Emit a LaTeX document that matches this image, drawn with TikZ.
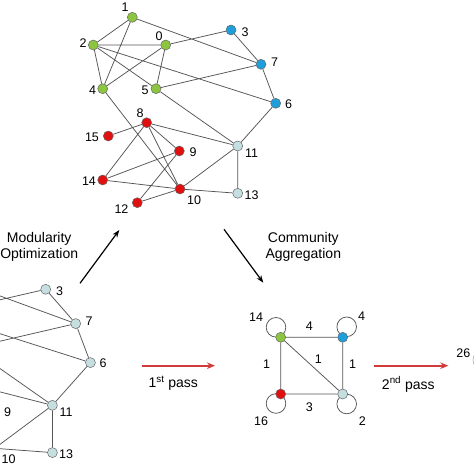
\documentclass[tikz,border=0pt]{standalone}
\usepackage{fontspec}
\setmainfont{Liberation Sans}
\usetikzlibrary{arrows.meta}
\definecolor{cgreen}{HTML}{8CC63E}
\definecolor{cblue}{HTML}{1E9FDC}
\definecolor{cred}{HTML}{E01010}
\definecolor{clight}{HTML}{C5DFE0}
\definecolor{cedge}{HTML}{555555}
\definecolor{carrow}{HTML}{D33A3A}
\newcommand\mygraph[4]{%
 \node[vtx,fill=#1] (n0) at (165.7,45) {};
 \node[vtx,fill=#1] (n1) at (132.3,17.3) {};
 \node[vtx,fill=#1] (n2) at (93.3,45) {};
 \node[vtx,fill=#2] (n3) at (231,30) {};
 \node[vtx,fill=#1] (n4) at (102.7,88.7) {};
 \node[vtx,fill=#1] (n5) at (156,88.7) {};
 \node[vtx,fill=#2] (n6) at (275.7,103.3) {};
 \node[vtx,fill=#2] (n7) at (261,64.3) {};
 \node[vtx,fill=#3] (n8) at (146.7,122.7) {};
 \node[vtx,fill=#3] (n9) at (179.3,151) {};
 \node[vtx,fill=#3] (n10) at (180,189) {};
 \node[vtx,fill=#4] (n11) at (237.7,146) {};
 \node[vtx,fill=#3] (n12) at (137.3,202.7) {};
 \node[vtx,fill=#4] (n13) at (237.7,193.3) {};
 \node[vtx,fill=#3] (n14) at (102.7,180) {};
 \node[vtx,fill=#3] (n15) at (108.3,136) {};
 \draw[edg] (n1)--(n2) (n1)--(n4) (n1)--(n7) (n2)--(n0) (n2)--(n4) (n2)--(n5)
   (n2)--(n6) (n0)--(n4) (n0)--(n5) (n0)--(n3) (n3)--(n7) (n7)--(n5) (n7)--(n6)
   (n4)--(n10) (n5)--(n11) (n6)--(n11) (n8)--(n15) (n8)--(n14) (n8)--(n9)
   (n8)--(n10) (n8)--(n11) (n9)--(n12) (n9)--(n14) (n10)--(n12) (n10)--(n14)
   (n10)--(n11) (n10)--(n13) (n11)--(n13);
 \node[lab] (l3) at (245,32) {3};
 \node[lab] (l7) at (274.5,62) {7};
 \node[lab] (l6) at (288.5,104) {6};
 \node[lab] (l9) at (193,152.5) {9};
 \node[lab] (l11) at (251.5,153) {11};
 \node[lab] (l10) at (194,200) {10};
 \node[lab] (l13) at (251.5,195) {13};
}
\newcommand\leftlabels{%
 \node[lab] (l1) at (125,7) {1};
 \node[lab] (l2) at (83,43) {2};
 \node[lab] (l0) at (159,36) {0};
 \node[lab] (l4) at (92.5,90) {4};
 \node[lab] (l5) at (145,90) {5};
 \node[lab] (l8) at (140,113) {8};
 \node[lab] (l15) at (92,137) {15};
 \node[lab] (l14) at (89,181.5) {14};
 \node[lab] (l12) at (121.5,209.5) {12};
}
\begin{document}
\begin{tikzpicture}[x=1pt,y=-1pt,
  vtx/.style={circle,draw=black!60,line width=0.5pt,inner sep=0pt,minimum size=10pt},
  edg/.style={draw=cedge,line width=0.75pt},
  lab/.style={font=\fontsize{12.5}{14}\selectfont,inner sep=0pt},
  txt/.style={font=\fontsize{14}{15.7}\selectfont,align=center,inner sep=0pt},
  blk/.style={-{Stealth[length=7.5pt,width=5.5pt]},line width=1.2pt,black},
  redarr/.style={-{Stealth[length=8pt,width=6.5pt]},line width=2pt,draw=carrow,fill=carrow}]
\useasboundingbox (0,0) rectangle (474,474);
\fill[white] (0,0) rectangle (474,474);
\clip (0,0) rectangle (474,474);
% top graph
\begin{scope}[name prefix=t-]
\mygraph{cgreen}{cblue}{cred}{clight}
\leftlabels
\end{scope}
% bottom-left graph (partly outside)
\begin{scope}[shift={(-185.3,259.3)},name prefix=b-]
\mygraph{clight}{clight}{clight}{clight}
\end{scope}
% texts and arrows
\node[txt] (mo) at (39.2,247.2) {Modularity\\Optimization};
\node[txt] (ca) at (303.3,246.7) {Community\\Aggregation};
\coordinate (a1s) at (80,283.3);
\coordinate (a1e) at (119.3,230);
\coordinate (a2s) at (224,229.3);
\coordinate (a2e) at (263.3,282.7);
\draw[blk] (a1s) -- (a1e);
\draw[blk] (a2s) -- (a2e);
\coordinate (r1s) at (141.7,365.7);
\coordinate (r1e) at (215,365.7);
\coordinate (r2s) at (374,365.7);
\coordinate (r2e) at (448.3,365.7);
\draw[redarr] (r1s) -- (r1e);
\draw[redarr] (r2s) -- (r2e);
\node[txt] (p1) at (173.3,383.3) {1\textsuperscript{st} pass};
\node[txt] (p2) at (408.3,384.3) {2\textsuperscript{nd} pass};
% aggregated graph
\coordinate (gc) at (280.7,337.3);
\coordinate (bc) at (342.7,337.3);
\coordinate (rc) at (280.7,394);
\coordinate (lc) at (342.7,394);
\draw[edg] (gc) ++(-4.7,-10) circle[radius=9.8];
\draw[edg] (bc) ++(4,-10.5) circle[radius=9.8];
\draw[edg] (rc) ++(-4.7,9.5) circle[radius=9.8];
\draw[edg] (lc) ++(4,10) circle[radius=9.8];
\node[vtx,fill=cgreen] (g) at (gc) {};
\node[vtx,fill=cblue] (b) at (bc) {};
\node[vtx,fill=cred] (r) at (rc) {};
\node[vtx,fill=clight] (l) at (lc) {};
\draw[edg] (g)--(b) (g)--(r) (g)--(l) (b)--(l) (r)--(l);
\node[lab] (w14) at (256,316.7) {14};
\node[lab] (w4a) at (309.3,326) {4};
\node[lab] (w4b) at (361.7,315.7) {4};
\node[lab] (w1a) at (266.7,364) {1};
\node[lab] (w1b) at (318.3,359.3) {1};
\node[lab] (w1c) at (352.7,364) {1};
\node[lab] (w3) at (309.3,406.7) {3};
\node[lab] (w16) at (261,420.7) {16};
\node[lab] (w2) at (362.3,420.7) {2};
\node[lab] (w26) at (463.3,353.3) {26};
\coordinate (nc) at (484,360);
\draw[draw=black!30,line width=0.6pt] (nc) circle[radius=11];
\end{tikzpicture}
\end{document}
